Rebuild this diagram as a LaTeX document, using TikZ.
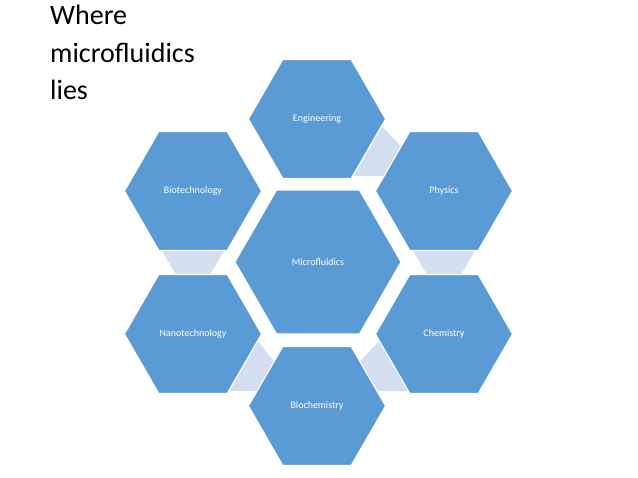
\documentclass[tikz,border=0pt]{standalone}
\usepackage{fontspec}
\setmainfont{Carlito}
\usetikzlibrary{shapes.geometric,calc}
\definecolor{hexblue}{HTML}{5B9BD5}
\definecolor{linkblue}{HTML}{D3DEF0}
\tikzset{
  hexa/.style={regular polygon, regular polygon sides=6,
    minimum size=137pt, inner sep=0pt, fill=hexblue, draw=white, line width=1pt,
    text=white, font=\fontsize{10}{12}\selectfont},
  bighexa/.style={hexa, minimum size=166pt},
  linkshape/.style={fill=linkblue, draw=none}
}
\begin{document}
\begin{tikzpicture}[x=1pt,y=-1pt]
\useasboundingbox (0,0) rectangle (638,478);
\node[anchor=north west, align=left, font=\fontsize{28}{37.5}\selectfont, inner sep=0pt] (title) at (50,5) {Where\\microfluidics\\lies};
\path (317,119) coordinate (ceng) (444,191) coordinate (cphys) (193,191) coordinate (cbio)
      (193,334) coordinate (cnano) (444,334) coordinate (cchem) (317,406) coordinate (cbioch);
\node[hexa, fill=none, draw=none] (eng) at (ceng) {};
\node[hexa, fill=none, draw=none] (phys) at (cphys) {};
\node[hexa, fill=none, draw=none] (bio) at (cbio) {};
\node[hexa, fill=none, draw=none] (nano) at (cnano) {};
\node[hexa, fill=none, draw=none] (chem) at (cchem) {};
\node[hexa, fill=none, draw=none] (bioch) at (cbioch) {};
% links
\fill[linkshape] ($(eng.0)!.12!(eng.300)$) -- ($(eng.0)!.95!(eng.300)$) -- ($(phys.120)!.75!(phys.180)$) -- ($(phys.120)!.25!(phys.180)$) -- cycle;
\fill[linkshape] ($(phys.240)!.05!(phys.300)$) -- ($(phys.240)!.95!(phys.300)$) -- ($(chem.120)!.75!(chem.60)$) -- ($(chem.120)!.25!(chem.60)$) -- cycle;
\fill[linkshape] ($(bio.240)!.05!(bio.300)$) -- ($(bio.240)!.95!(bio.300)$) -- ($(nano.120)!.75!(nano.60)$) -- ($(nano.120)!.25!(nano.60)$) -- cycle;
\fill[linkshape] ($(nano.0)!.12!(nano.300)$) -- ($(nano.0)!.95!(nano.300)$) -- ($(bioch.120)!.75!(bioch.180)$) -- ($(bioch.120)!.25!(bioch.180)$) -- cycle;
\fill[linkshape] ($(chem.180)!.12!(chem.240)$) -- ($(chem.180)!.95!(chem.240)$) -- ($(bioch.60)!.75!(bioch.0)$) -- ($(bioch.60)!.25!(bioch.0)$) -- cycle;
% hexagons
\node[hexa] at (ceng) {Engineering};
\node[hexa] at (cphys) {Physics};
\node[hexa] at (cbio) {Biotechnology};
\node[bighexa] (micro) at (318,262) {Microfluidics};
\node[hexa] at (cnano) {Nanotechnology};
\node[hexa] at (cchem) {Chemistry};
\node[hexa] at (cbioch) {Biochemistry};
\end{tikzpicture}
\end{document}
